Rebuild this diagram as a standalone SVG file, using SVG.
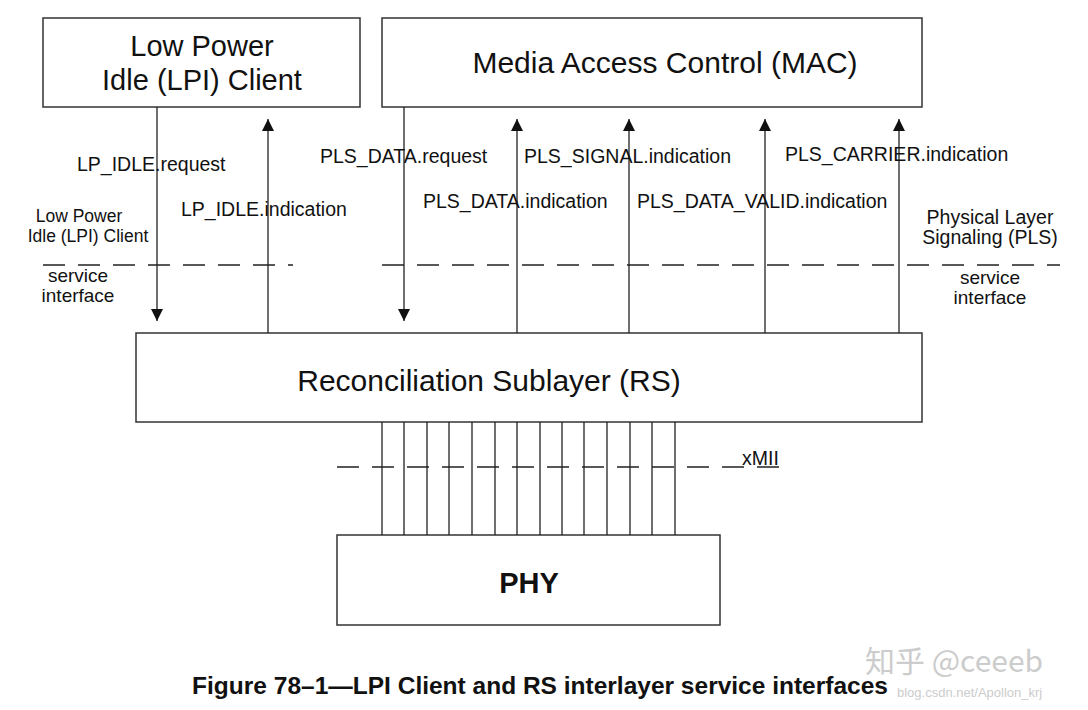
<svg xmlns="http://www.w3.org/2000/svg" width="1088" height="710" viewBox="0 0 1088 710">
<style>
.b{fill:#fff;stroke:#333;stroke-width:1.5}
.t{font-family:"Liberation Sans",Arial,sans-serif;fill:#111}
.l{stroke:#222;stroke-width:1.3;fill:none}
.d{stroke:#222;stroke-width:1.3;stroke-dasharray:22,13;fill:none}
</style>
<defs>
<marker id="dn" markerWidth="12" markerHeight="12" refX="6" refY="12" orient="0" markerUnits="userSpaceOnUse" viewBox="0 0 12 12"><path d="M0,0L12,0L6,12Z" fill="#111"/></marker>
<marker id="up" markerWidth="12" markerHeight="12" refX="6" refY="0" orient="0" markerUnits="userSpaceOnUse" viewBox="0 0 12 12"><path d="M0,12L12,12L6,0Z" fill="#111"/></marker></defs>
<rect width="1088" height="710" fill="#fff"/>
<g id="lpi"><rect class="b" x="43" y="18" width="317" height="89"/><text class="t" x="202" y="56" font-size="29" text-anchor="middle">Low Power</text><text class="t" x="202" y="90" font-size="29" text-anchor="middle">Idle (LPI) Client</text></g>
<g id="mac"><rect class="b" x="382" y="18" width="540" height="89"/><text class="t" x="665" y="73" font-size="30" text-anchor="middle">Media Access Control (MAC)</text></g>
<g id="rs"><rect class="b" x="136" y="333" width="786" height="89"/><text class="t" x="489" y="391" font-size="30" text-anchor="middle">Reconciliation Sublayer (RS)</text></g>
<g id="phy"><rect class="b" x="337" y="535" width="383" height="90"/><text class="t" x="529" y="593" font-size="29" font-weight="bold" text-anchor="middle">PHY</text></g>
<g id="connectors">
<path class="d" d="M43,265H293M382,265H1060M337,467H790"/>
<path class="l" d="M157,107V321" marker-end="url(#dn)"/>
<path class="l" d="M268,333V119" marker-end="url(#up)"/>
<path class="l" d="M404,107V321" marker-end="url(#dn)"/>
<path class="l" d="M517,333V119" marker-end="url(#up)"/>
<path class="l" d="M629,333V119" marker-end="url(#up)"/>
<path class="l" d="M765,333V119" marker-end="url(#up)"/>
<path class="l" d="M899,333V119" marker-end="url(#up)"/>
<path class="l" d="M382,422V535M404,422V535M427,422V535M449,422V535M472,422V535M495,422V535M517,422V535M540,422V535M562,422V535M584,422V535M607,422V535M630,422V535M652,422V535M675,422V535"/>
</g>
<g class="t" font-size="19.5">
<text x="77" y="171">LP_IDLE.request</text>
<text x="181" y="216">LP_IDLE.indication</text>
<text x="320" y="163">PLS_DATA.request</text>
<text x="524" y="163">PLS_SIGNAL.indication</text>
<text x="785" y="161">PLS_CARRIER.indication</text>
<text x="423" y="208">PLS_DATA.indication</text>
<text x="637" y="208">PLS_DATA_VALID.indication</text>
<text x="79" y="222" font-size="17.5" text-anchor="middle">Low Power</text>
<text x="88" y="242" font-size="17.5" text-anchor="middle">Idle (LPI) Client</text>
<text x="78" y="282" font-size="19" text-anchor="middle">service</text>
<text x="78" y="302" font-size="19" text-anchor="middle">interface</text>
<text x="990" y="224" font-size="19.5" text-anchor="middle">Physical Layer</text>
<text x="990" y="244" font-size="19.5" text-anchor="middle">Signaling (PLS)</text>
<text x="990" y="284" font-size="19" text-anchor="middle">service</text>
<text x="990" y="304" font-size="19" text-anchor="middle">interface</text>
<text x="742" y="465">xMII</text>
<text x="540" y="694" font-size="24.5" font-weight="bold" text-anchor="middle">Figure 78–1—LPI Client and RS interlayer service interfaces</text>
</g>
<text x="865" y="672" font-family="'Noto Sans CJK SC',sans-serif" font-size="30" fill="#ccc">知乎 @ceeeb</text>
<text x="897" y="697" font-family="'Liberation Sans',sans-serif" font-size="13" fill="#ccc">blog.csdn.net/Apollon_krj</text>
</svg>
